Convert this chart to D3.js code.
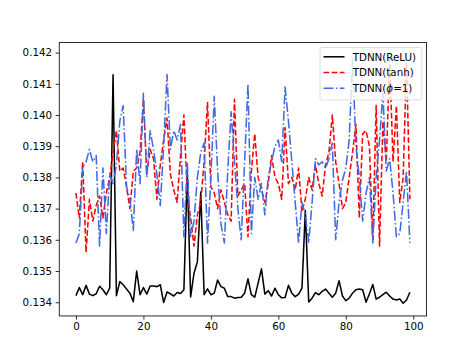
<!DOCTYPE html>
<html><head><meta charset="utf-8">
<script src="https://cdn.jsdelivr.net/npm/d3@7"></script>
<style>body{margin:0;background:#fff}svg{display:block}text{font-family:"DejaVu Sans",sans-serif}</style>
</head><body>
<svg id="c" width="474" height="355"></svg>
<script>
const relu = [0.13421,0.13447,0.13424,0.13454,0.13426,0.13421,0.13427,0.13451,0.13440,0.13424,
0.13445,0.14129,0.13421,0.13466,0.13456,0.13442,0.13429,0.13402,0.13500,0.13424,
0.13447,0.13426,0.13452,0.13452,0.13450,0.13456,0.13399,0.13433,0.13427,0.13420,
0.13431,0.13428,0.13440,0.13815,0.13417,0.13493,0.13530,0.13753,0.13424,0.13443,
0.13424,0.13429,0.13471,0.13450,0.13445,0.13418,0.13418,0.13413,0.13415,0.13416,
0.13429,0.13475,0.13424,0.13416,0.13461,0.13507,0.13426,0.13437,0.13420,0.13445,
0.13424,0.13414,0.13415,0.13454,0.13429,0.13418,0.13426,0.13445,0.13694,0.13401,
0.13413,0.13431,0.13424,0.13435,0.13442,0.13429,0.13416,0.13429,0.13469,0.13420,
0.13405,0.13413,0.13429,0.13440,0.13442,0.13440,0.13400,0.13427,0.13457,0.13410,
0.13416,0.13424,0.13432,0.13420,0.13410,0.13407,0.13410,0.13397,0.13407,0.13432];
const tanh = [0.1375,0.1367,0.1385,0.1356,0.1373,0.1366,0.1371,0.1374,0.1367,0.1375,
0.1380,0.1388,0.1395,0.1382,0.1383,0.1377,0.1370,0.1382,0.1383,0.1388,
0.1405,0.1381,0.1389,0.1386,0.1373,0.1384,0.1392,0.1399,0.1381,0.1376,
0.1372,0.1387,0.1400,0.1375,0.1367,0.1358,0.1368,0.1372,0.1385,0.1404,
0.1377,0.1375,0.1370,0.1376,0.1372,0.1368,0.1366,0.1405,0.1374,0.1376,
0.1378,0.1361,0.1382,0.1394,0.1380,0.1376,0.1372,0.1378,0.1387,0.1380,
0.1378,0.1373,0.1396,0.1378,0.1380,0.1376,0.1383,0.1369,0.1373,0.1380,
0.1376,0.1384,0.1378,0.1374,0.1384,0.1388,0.1400,0.1385,0.1378,0.1370,
0.1372,0.1380,0.1388,0.1397,0.1367,0.1394,0.1395,0.1390,0.1360,0.1403,
0.1358,0.1398,0.1385,0.1418,0.1385,0.1403,0.1372,0.1380,0.1417,0.1373];
const phi1 = [0.1359,0.1362,0.1383,0.1385,0.1389,0.1385,0.1387,0.1358,0.1383,0.1362,
0.1381,0.1378,0.1384,0.1398,0.1403,0.1377,0.1373,0.1363,0.1389,0.1378,
0.1407,0.1380,0.1395,0.1389,0.1381,0.1371,0.1390,0.1413,0.1389,0.1395,
0.1392,0.1397,0.1361,0.1385,0.1361,0.1366,0.1380,0.1388,0.1391,0.1359,
0.1380,0.1406,0.1382,0.1365,0.1359,0.1382,0.1401,0.1385,0.1370,0.1360,
0.1385,0.1410,0.1362,0.1380,0.1373,0.1378,0.1368,0.1380,0.1385,0.1390,
0.1392,0.1385,0.1409,0.1398,0.1385,0.1372,0.1359,0.1372,0.1368,0.1359,
0.1372,0.1386,0.1384,0.1385,0.1383,0.1386,0.1391,0.1360,0.1372,0.1379,
0.1383,0.1392,0.1418,0.1390,0.1380,0.1366,0.1375,0.1380,0.1359,0.1380,
0.1392,0.1407,0.1382,0.1386,0.1375,0.1361,0.1362,0.1372,0.1382,0.1359];
const xTicks = [0,20,40,60,80,100];
const yTicks = [0.134,0.135,0.136,0.137,0.138,0.139,0.140,0.141,0.142];
const seriesNames = ["TDNN(ReLU)","TDNN(tanh)","TDNN(\u03D5=1)"];

const svg = d3.select("#c");
const L=59.25, R=426.6, T=42.6, B=315.95;
const x = d3.scaleLinear().domain([-4.95,103.95]).range([L,R]);
const y = d3.scaleLinear().domain([0.13356,0.14232]).range([B,T]);

svg.append("defs").append("clipPath").attr("id","clip").append("rect")
  .attr("x",L).attr("y",T).attr("width",R-L).attr("height",B-T);

const series = [
  {vals:relu, color:"#000000", dash:null},
  {vals:tanh, color:"#ff0000", dash:"5.7,2.5"},
  {vals:phi1, color:"#4169e1", dash:"9.9,2.5,1.5,2.5"}
];
const line = d3.line().x((d,i)=>x(i)).y(d=>y(d));
const g = svg.append("g").attr("clip-path","url(#clip)");
series.forEach(s=>{
  g.append("path").datum(s.vals).attr("d",line).attr("fill","none")
   .attr("stroke",s.color).attr("stroke-width",1.54)
   .attr("stroke-dasharray",s.dash).attr("stroke-linejoin","round");
});

const xa = svg.append("g").attr("transform",`translate(0,${B})`)
  .call(d3.axisBottom(x).tickValues(xTicks).tickSize(3.6).tickPadding(3.6).tickFormat(d3.format("d")));
const ya = svg.append("g").attr("transform",`translate(${L},0)`)
  .call(d3.axisLeft(y).tickValues(yTicks).tickSize(3.6).tickPadding(3.6).tickFormat(d3.format(".3f")));
[xa,ya].forEach(a=>{
  a.select(".domain").remove();
  a.selectAll("line").attr("stroke","#000").attr("stroke-width",0.82);
  a.selectAll("text").attr("font-size","10.3px").attr("fill","#000").attr("font-family","DejaVu Sans");
});

svg.append("rect").attr("x",L).attr("y",T).attr("width",R-L).attr("height",B-T)
  .attr("fill","none").attr("stroke","#000").attr("stroke-width",0.82);

// legend
const lg = svg.append("g");
lg.append("rect").attr("x",320).attr("y",47.5).attr("width",101.8).attr("height",52.5)
  .attr("rx",2.5).attr("fill","#fff").attr("fill-opacity",0.8)
  .attr("stroke","#cccccc").attr("stroke-opacity",0.8).attr("stroke-width",0.82);
const rows=[56.8,72.4,88.2];
series.forEach((s,k)=>{
  lg.append("line").attr("x1",323.5).attr("x2",344.5).attr("y1",rows[k]).attr("y2",rows[k])
    .attr("stroke",s.color).attr("stroke-width",1.54).attr("stroke-dasharray",s.dash);
  const t = lg.append("text").attr("x",352.7).attr("y",rows[k]+3.8).attr("font-size","10.3px").attr("fill","#000");
  if(k<2){ t.text(seriesNames[k]); }
  else {
    t.append("tspan").text("TDNN(");
    t.append("tspan").attr("font-style","italic").text("\u03D5");
    t.append("tspan").text("=1)");
  }
});
</script>
</body></html>
